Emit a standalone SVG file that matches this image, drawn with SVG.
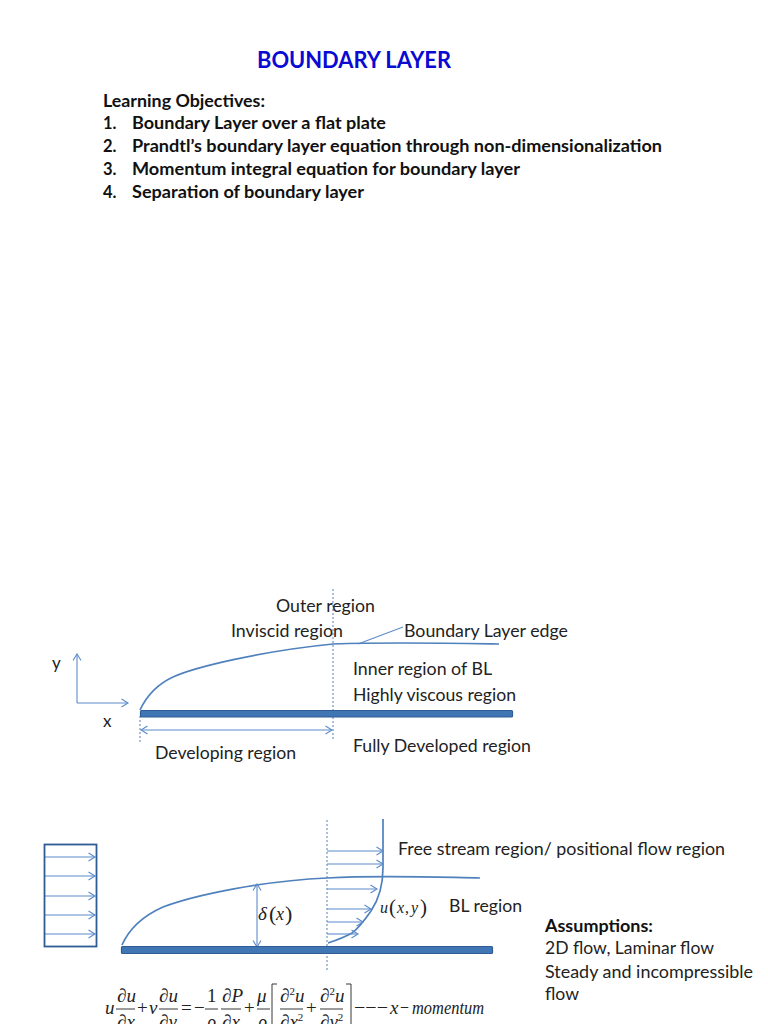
<svg xmlns="http://www.w3.org/2000/svg" width="768" height="1024" viewBox="0 0 768 1024">
<style>
text{font-family:Lato,"Liberation Sans",sans-serif;font-size:17px;fill:#222}
.b{font-weight:700;fill:#111;font-size:16.5px}
.t{font-weight:700;fill:#0a0ad2;font-size:22px}
.m{font-family:"Liberation Serif",serif;font-size:19px;fill:#222}
.s{font-size:11px}
.i{font-style:italic}
.f{fill:none;stroke:#4f81bd;stroke-width:1.7}
.l{fill:none;stroke:#5b8ccb;stroke-width:1.1}
.d{fill:none;stroke:#4f81bd;stroke-width:1;stroke-dasharray:2 2}
.p{fill:#4176b4;stroke:#2f5c94;stroke-width:1.2}
.k{fill:none;stroke:#222;stroke-width:.9}
</style>
<defs><marker id="a" markerWidth="9" markerHeight="10" refX="7.500" refY="5" orient="auto-start-reverse" markerUnits="userSpaceOnUse"><path d="M1 1L7.500 5L1 9" fill="none" stroke="#5b8ccb" stroke-width="1.100"/></marker></defs>
<rect width="768" height="1024" fill="#fff"/>
<g id="heading">
<text class="t" x="257" y="67.500" textLength="194" lengthAdjust="spacingAndGlyphs">BOUNDARY LAYER</text>
<text class="b" x="103" y="106.500" textLength="162" lengthAdjust="spacingAndGlyphs">Learning Objectives:</text>
<text class="b" x="103" y="129">1.</text><text class="b" x="132" y="129" textLength="254" lengthAdjust="spacingAndGlyphs">Boundary Layer over a flat plate</text>
<text class="b" x="103" y="152">2.</text><text class="b" x="132" y="152" textLength="530" lengthAdjust="spacingAndGlyphs">Prandtl’s boundary layer equation through non-dimensionalization</text>
<text class="b" x="103" y="175">3.</text><text class="b" x="132" y="175" textLength="388" lengthAdjust="spacingAndGlyphs">Momentum integral equation for boundary layer</text>
<text class="b" x="103" y="198">4.</text><text class="b" x="132" y="198" textLength="232" lengthAdjust="spacingAndGlyphs">Separation of boundary layer</text>
</g>
<g id="connectors">
<path class="d" d="M333 589V741M140 716V742M327 820V972"/>
<path class="l" d="M77 703V654" marker-end="url(#a)"/><path class="l" d="M77 703H128" marker-end="url(#a)"/>
<path class="l" d="M141 730H332" marker-start="url(#a)" marker-end="url(#a)"/>
<path class="l" d="M358 644L403 627"/>
<path class="f" d="M140 710C147 695 158 684 173 677C195 667 262 651 333 644C390 642 440 643 499 644"/>
<path class="f" d="M122 945C130 927 145 915 163 907C195 895 262 881 327 878C380 875 430 877 480 878"/>
<path class="f" d="M383 819V868C383 885 379 899 371 911C364 921 359 928 352 933C345 937 337 940 328 943" stroke-width="2"/>
<path class="l" d="M257 884V947" marker-start="url(#a)" marker-end="url(#a)"/>
<path class="l" d="M327 851H383" marker-end="url(#a)"/><path class="l" d="M327 864H383" marker-end="url(#a)"/>
<path class="l" d="M327 889H377" marker-end="url(#a)"/><path class="l" d="M327 909H371" marker-end="url(#a)"/>
<path class="l" d="M327 922H363" marker-end="url(#a)"/><path class="l" d="M327 934H358" marker-end="url(#a)"/>
<path class="l" d="M45 857H95" marker-end="url(#a)"/><path class="l" d="M45 876H95" marker-end="url(#a)"/>
<path class="l" d="M45 896H95" marker-end="url(#a)"/><path class="l" d="M45 915H95" marker-end="url(#a)"/>
<path class="l" d="M45 934H95" marker-end="url(#a)"/>
</g>
<g id="plate-1"><rect class="p" x="140.500" y="710.500" width="372" height="6.500" rx="1"/></g>
<g id="plate-2"><rect class="p" x="121.500" y="946.500" width="371" height="7" rx="1"/></g>
<g id="inlet-box"><rect x="44.500" y="844.500" width="52" height="102" fill="none" stroke="#2f5c94" stroke-width="1.800"/></g>
<g id="labels">
<text x="276" y="612" textLength="99" lengthAdjust="spacingAndGlyphs">Outer region</text>
<text x="231" y="637" textLength="112" lengthAdjust="spacingAndGlyphs">Inviscid region</text>
<text x="404" y="637" textLength="164" lengthAdjust="spacingAndGlyphs">Boundary Layer edge</text>
<text x="353" y="675" textLength="139" lengthAdjust="spacingAndGlyphs">Inner region of BL</text>
<text x="353" y="701" textLength="163" lengthAdjust="spacingAndGlyphs">Highly viscous region</text>
<text x="353" y="752" textLength="178" lengthAdjust="spacingAndGlyphs">Fully Developed region</text>
<text x="155" y="759" textLength="141" lengthAdjust="spacingAndGlyphs">Developing region</text>
<text x="52" y="669">y</text><text x="103" y="727">x</text>
<text x="398" y="855" textLength="327" lengthAdjust="spacingAndGlyphs">Free stream region/ positional flow region</text>
<text x="449" y="912" textLength="73" lengthAdjust="spacingAndGlyphs">BL region</text>
<text class="b" x="545" y="932" textLength="108" lengthAdjust="spacingAndGlyphs">Assumptions:</text>
<text x="545" y="954" textLength="169" lengthAdjust="spacingAndGlyphs">2D flow, Laminar flow</text>
<text x="545" y="978" textLength="208" lengthAdjust="spacingAndGlyphs">Steady and incompressible</text>
<text x="545" y="1000" textLength="34" lengthAdjust="spacingAndGlyphs">flow</text>
</g>
<g id="math">
<text class="m i" x="258" y="920">δ</text><text class="m" x="269" y="921" style="font-size:22px">(</text><text class="m i" x="276" y="920" style="font-size:18px">x</text><text class="m" x="285" y="921" style="font-size:22px">)</text>
<text class="m i" x="380" y="913" style="font-size:16px">u</text>
<text class="m" x="389" y="914" style="font-size:21px">(</text><text class="m i" x="397" y="913" style="font-size:16px">x</text><text class="m" x="405" y="913" style="font-size:16px">,</text><text class="m i" x="411" y="913" style="font-size:16px">y</text><text class="m" x="420" y="914" style="font-size:21px">)</text>
<text class="m i" x="105" y="1014">u</text>
<text class="m" x="117" y="1002">∂<tspan class="i">u</tspan></text><path class="k" d="M116 1009H135"/><text class="m" x="117" y="1028">∂<tspan class="i">x</tspan></text>
<text class="m" x="137" y="1014">+</text><text class="m i" x="149" y="1014">v</text>
<text class="m" x="159" y="1002">∂<tspan class="i">u</tspan></text><path class="k" d="M159 1009H178"/><text class="m" x="159" y="1028">∂<tspan class="i">y</tspan></text>
<text class="m" x="181" y="1014">=</text><text class="m" x="194" y="1014">−</text>
<text class="m" x="207" y="1002">1</text><path class="k" d="M205 1009H218"/><text class="m i" x="207" y="1028">ρ</text>
<text class="m" x="222" y="1002">∂<tspan class="i">P</tspan></text><path class="k" d="M221 1009H241"/><text class="m" x="222" y="1028">∂<tspan class="i">x</tspan></text>
<text class="m" x="244" y="1014">+</text>
<text class="m i" x="257" y="1002">μ</text><path class="k" d="M257 1009H270"/><text class="m i" x="258" y="1028">ρ</text>
<path class="k" d="M277 984H272V1030M346 984H351V1030"/>
<text class="m" x="280" y="1002">∂<tspan class="s" dy="-7">2</tspan><tspan class="i" dy="7">u</tspan></text><path class="k" d="M280 1009H303"/><text class="m" x="280" y="1028">∂<tspan class="i">x</tspan><tspan class="s" dy="-7">2</tspan></text>
<text class="m" x="306" y="1014">+</text>
<text class="m" x="320" y="1002">∂<tspan class="s" dy="-7">2</tspan><tspan class="i" dy="7">u</tspan></text><path class="k" d="M320 1009H343"/><text class="m" x="320" y="1028">∂<tspan class="i">y</tspan><tspan class="s" dy="-7">2</tspan></text>
<text class="m" x="354" y="1014" textLength="34" lengthAdjust="spacingAndGlyphs">−−−</text>
<text class="m i" x="390" y="1014">x</text><text class="m" x="400" y="1014" textLength="9" lengthAdjust="spacingAndGlyphs">−</text>
<text class="m i" x="412" y="1014" textLength="72" lengthAdjust="spacingAndGlyphs">momentum</text>
</g>
</svg>
